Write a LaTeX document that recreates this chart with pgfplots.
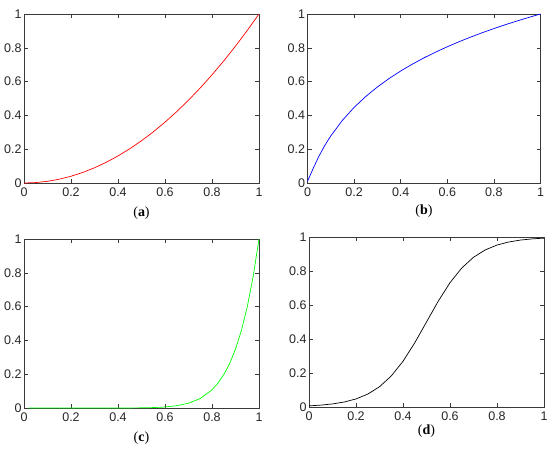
\documentclass[border=0pt]{standalone}
\usepackage{fontspec}
\setmainfont{Liberation Sans}
\newfontfamily\capfont{Liberation Serif}
\usepackage{pgfplots}
\pgfplotsset{compat=1.18}
\definecolor{axgray}{HTML}{3A3A3A}
\definecolor{txgray}{HTML}{262626}
\pgfplotsset{
  panel/.style={
    scale only axis,
    xmin=0, xmax=1, ymin=0, ymax=1,
    xtick={0,0.2,0.4,0.6,0.8,1},
    ytick={0,0.2,0.4,0.6,0.8,1},
    xticklabels={0,0.2,0.4,0.6,0.8,1},
    yticklabels={0,0.2,0.4,0.6,0.8,1},
    tick align=inside,
    major tick length=4pt,
    axis line style={axgray, line width=0.8pt},
    every tick/.style={axgray, line width=0.6pt},
    tick label style={font=\fontsize{12.5}{12.5}\selectfont, text=txgray},
    /pgf/number format/assume math mode=true,
    xticklabel style={yshift=-1pt},
    yticklabel style={xshift=1pt},
    xlabel style={font=\capfont\fontsize{14}{14}\selectfont},
    clip=false,
  }
}
\begin{document}
\begin{tikzpicture}
\useasboundingbox (0pt,0pt) rectangle (550pt,451pt);
% (a)
\begin{axis}[panel, at={(24pt,268pt)}, anchor=south west, width=235pt, height=169pt,
  xlabel={(\textbf{a})}, xlabel style={yshift=-4pt}]
\addplot[red, line width=0.7pt] coordinates {
(0,0)(0.05,0.0025)(0.1,0.01)(0.15,0.0225)(0.2,0.04)(0.25,0.0625)(0.3,0.09)(0.35,0.1225)(0.4,0.16)(0.45,0.2025)(0.5,0.25)(0.55,0.3025)(0.6,0.36)(0.65,0.4225)(0.7,0.49)(0.75,0.5625)(0.8,0.64)(0.85,0.7225)(0.9,0.81)(0.95,0.9025)(1,1)};
\end{axis}
% (b)
\begin{axis}[panel, at={(307.5pt,268pt)}, anchor=south west, width=233pt, height=169pt,
  xlabel={(\textbf{b})}, xlabel style={yshift=-2pt}]
\addplot[blue, line width=0.7pt] coordinates {
(0,0.01)(0.025,0.0881)(0.05,0.1614)(0.075,0.224)(0.1,0.2788)(0.15,0.3711)(0.2,0.4472)(0.25,0.5119)(0.3,0.5682)(0.35,0.618)(0.4,0.6628)(0.45,0.7033)(0.5,0.7404)(0.55,0.7745)(0.6,0.8062)(0.65,0.8357)(0.7,0.8633)(0.75,0.8893)(0.8,0.9138)(0.85,0.937)(0.9,0.959)(0.95,0.98)(1,1)};
\end{axis}
% (c)
\begin{axis}[panel, at={(24pt,43pt)}, anchor=south west, width=235pt, height=169pt,
  xlabel={(\textbf{c})}, xlabel style={yshift=-4pt}]
\addplot[green, line width=0.7pt] coordinates {
(0.02,0)(0.1,0)(0.2,0)(0.3,0)(0.4,0)(0.5,0.001)(0.55,0.0025)(0.6,0.006)(0.65,0.0135)(0.7,0.0282)(0.75,0.0563)(0.8,0.1074)(0.825,0.1462)(0.85,0.1969)(0.875,0.2631)(0.9,0.3487)(0.925,0.4586)(0.95,0.5987)(0.975,0.7763)(1,1)};
\end{axis}
% (d)
\begin{axis}[panel, at={(309pt,44pt)}, anchor=south west, width=235pt, height=170pt,
  xlabel={(\textbf{d})}, xlabel style={yshift=2pt}]
\addplot[black, line width=0.7pt] coordinates {
(0,0.0067)(0.05,0.011)(0.1,0.018)(0.15,0.0293)(0.2,0.0474)(0.25,0.0759)(0.3,0.1192)(0.35,0.1824)(0.4,0.2689)(0.45,0.3775)(0.5,0.5)(0.55,0.6225)(0.6,0.7311)(0.65,0.8176)(0.7,0.8808)(0.75,0.9241)(0.8,0.9526)(0.85,0.9707)(0.9,0.982)(0.95,0.989)(1,0.9933)};
\end{axis}
\end{tikzpicture}
\end{document}
